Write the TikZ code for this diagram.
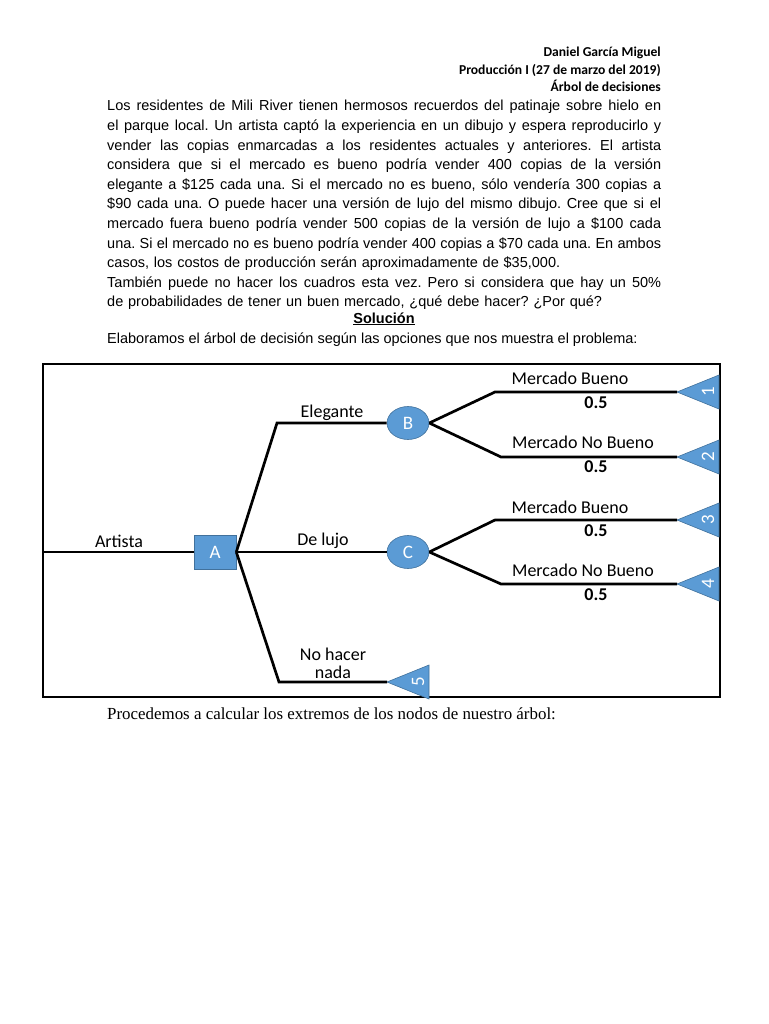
\documentclass[tikz,border=0pt]{standalone}
\usepackage{fontspec}
\setmainfont{Liberation Sans}
\newfontfamily\calibri{Carlito}
\newfontfamily\serifa{Liberation Serif}
\usetikzlibrary{shapes.geometric}
\definecolor{nodoazul}{HTML}{5B9BD5}
\definecolor{bordeazul}{HTML}{41719C}
% one justified line of the statement
\newcommand{\jline}[1]{\makebox[554pt][s]{\spaceskip=0.278em plus 1em minus 0.08em\relax#1}\\}
% end node: triangle pointing left, apex at (#2,#3), number turned a quarter
\newcommand{\hoja}[4]{%
  \fill[nodoazul, draw=bordeazul, line width=0.6pt]
    (#2,#3) -- ({#2+42},{#3-17}) -- ({#2+42},{#3+17}) -- cycle;
  \coordinate (#1) at (#2,#3);
  \node[rotate=90, text=white, inner sep=0pt, font=\calibri\fontsize{19}{19}\selectfont] (#1n) at ({#2+31},#3) {#4};
}

\begin{document}
\frenchspacing
\begin{tikzpicture}[x=1pt, y=-1pt,
    cabecera/.style={anchor=base east, inner sep=0pt, font=\calibri\bfseries\fontsize{13.6}{16}\selectfont},
    decision/.style={rectangle, fill=nodoazul, draw=bordeazul, line width=0.6pt, minimum width=42pt,
      minimum height=34pt, text=white, font=\calibri\fontsize{19}{19}\selectfont},
    azar/.style={ellipse, fill=nodoazul, draw=bordeazul, line width=0.6pt, minimum width=42pt,
      minimum height=33pt, inner sep=0pt, text=white, font=\calibri\fontsize{19}{19}\selectfont},
    rama/.style={line width=2.7pt},
    etiqueta/.style={anchor=base, inner sep=0pt, font=\calibri\fontsize{18}{21}\selectfont},
    prob/.style={etiqueta, font=\calibri\bfseries\fontsize{18}{21}\selectfont}]
  \useasboundingbox (0,0) rectangle (768,1024);
  % ---------------------------------------------------------------- heading
  \node[cabecera] (autor) at (661,57) {Daniel García Miguel};
  \node[cabecera] (curso) at (661,75) {Producción I (27 de marzo del 2019)};
  \node[cabecera] (tema) at (661,92) {Árbol de decisiones};
  % ---------------------------------------------------------------- statement
  \node[anchor=base west, text width=554pt, align=left, inner sep=0pt,
    font=\fontsize{14.5}{19.6}\selectfont] (enunciado) at (107,111) {%
    \jline{Los residentes de Mili River tienen hermosos recuerdos del patinaje sobre hielo en}
    \jline{el parque local. Un artista captó la experiencia en un dibujo y espera reproducirlo y}
    \jline{vender las copias enmarcadas a los residentes actuales y anteriores. El artista}
    \jline{considera que si el mercado es bueno podría vender 400 copias de la versión}
    \jline{elegante a \$125 cada una. Si el mercado no es bueno, sólo vendería 300 copias a}
    \jline{\$90 cada una. O puede hacer una versión de lujo del mismo dibujo. Cree que si el}
    \jline{mercado fuera bueno podría vender 500 copias de la versión de lujo a \$100 cada}
    \jline{una. Si el mercado no es bueno podría vender 400 copias a \$70 cada una. En ambos}
    casos, los costos de producción serán aproximadamente de \$35,000.\\
    \jline{También puede no hacer los cuadros esta vez. Pero si considera que hay un 50\%}
    de probabilidades de tener un buen mercado, ¿qué debe hacer? ¿Por qué?};
  \node[anchor=base, inner sep=0pt, font=\bfseries\fontsize{14.5}{19.6}\selectfont] (solucion)
    at (384,323) {\underline{Solución}};
  \node[anchor=base west, inner sep=0pt, font=\fontsize{14.5}{19.6}\selectfont] (elaboramos)
    at (107,343) {Elaboramos el árbol de decisión según las opciones que nos muestra el problema:};
  % ---------------------------------------------------------------- the tree
  \draw[line width=1.5pt] (43,364) rectangle (720,697);
  \node[decision] (A) at (215,552) {A};
  \node[azar] (B) at (408,423) {B};
  \node[azar] (C) at (408,552) {C};
  \coordinate (inicio) at (43,552);
  \coordinate (kB) at (277,423);
  \coordinate (kN) at (279,682);
  \coordinate (kB1) at (495,392);
  \coordinate (kB2) at (501,457);
  \coordinate (kC1) at (495,520);
  \coordinate (kC2) at (501,584);
  \hoja{t1}{677}{392}{1}
  \hoja{t2}{677}{457}{2}
  \hoja{t3}{677}{520}{3}
  \hoja{t4}{677}{584}{4}
  \hoja{t5}{387}{682}{5}
  \draw[rama] (inicio) -- (A);
  \draw[rama] (A.east) -- (kB) -- (B);
  \draw[rama] (A) -- (C);
  \draw[rama] (A.east) -- (kN) -- (t5);
  \draw[rama] (B.east) -- (kB1) -- (t1);
  \draw[rama] (B.east) -- (kB2) -- (t2);
  \draw[rama] (C.east) -- (kC1) -- (t3);
  \draw[rama] (C.east) -- (kC2) -- (t4);
  % labels on the branches
  \node[etiqueta] (lart) at (119,547) {Artista};
  \node[etiqueta] (leleg) at (332,417) {Elegante};
  \node[etiqueta] (llujo) at (323,545) {De lujo};
  \node[etiqueta] (lnada) at (333,660) {No hacer};
  \node[etiqueta] (lnada2) at (333,678) {nada};
  \node[etiqueta] (lb1) at (570,384) {Mercado Bueno};
  \node[prob] (pb1) at (596,408) {0.5};
  \node[etiqueta] (lb2) at (583,448) {Mercado No Bueno};
  \node[prob] (pb2) at (596,472) {0.5};
  \node[etiqueta] (lc1) at (570,513) {Mercado Bueno};
  \node[prob] (pc1) at (596,536) {0.5};
  \node[etiqueta] (lc2) at (583,576) {Mercado No Bueno};
  \node[prob] (pc2) at (596,600) {0.5};
  % ---------------------------------------------------------------- below the frame
  \node[anchor=base west, inner sep=0pt, font=\serifa\fontsize{16.9}{20}\selectfont] (procedemos)
    at (107,719) {Procedemos a calcular los extremos de los nodos de nuestro árbol:};
\end{tikzpicture}
\end{document}
